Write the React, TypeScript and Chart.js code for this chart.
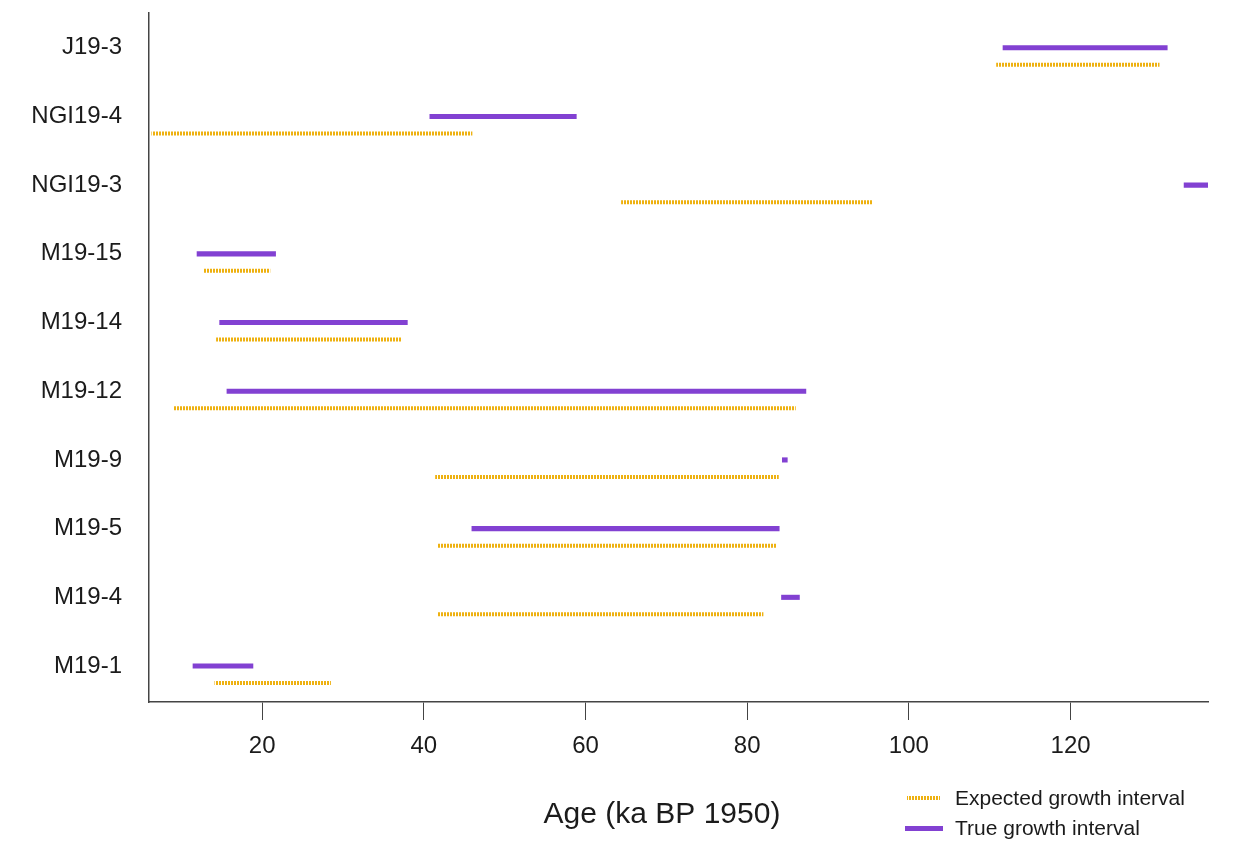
import React, { useEffect, useRef } from "react";
import { Chart, registerables } from "chart.js";

Chart.register(...registerables);

// ---- data ----
const samples = ["J19-3", "NGI19-4", "NGI19-3", "M19-15", "M19-14", "M19-12", "M19-9", "M19-5", "M19-4", "M19-1"];
const trueStart = [111.6, 40.7, 134.0, 11.9, 14.7, 15.6, 84.3, 45.9, 84.2, 11.4];
const trueEnd = [132.0, 58.9, 138.0, 21.7, 38.0, 87.3, 85.0, 84.0, 86.5, 18.9];
const expectedStart = [110.8, 6.3, 64.4, 12.7, 14.3, 9.0, 41.4, 41.7, 41.7, 14.1];
const expectedEnd = [131.0, 46.0, 95.5, 21.0, 37.3, 86.0, 83.9, 83.6, 82.0, 28.5];
const xTickValues = [20, 40, 60, 80, 100, 120];
const xMin = 6;
const xMax = 137;
const axisTitle = "Age (ka BP 1950)";
const seriesLabels = ["True growth interval", "Expected growth interval"];

const PURPLE = "#8241d2";
const YELLOW = "#eeb110";
const TEXT = "#1b1b1b";
const AXIS = "#444444";
const FONT = '"Liberation Sans", Arial, sans-serif';

export default function App() {
  const ref = useRef<HTMLCanvasElement | null>(null);

  useEffect(() => {
    const canvas = ref.current;
    if (!canvas) return;
    const ctx0 = canvas.getContext("2d")!;
    const tile = document.createElement("canvas");
    tile.width = 3;
    tile.height = 8;
    const tg = tile.getContext("2d")!;
    tg.fillStyle = YELLOW;
    tg.fillRect(0, 0, 2, 8);
    const pattern = ctx0.createPattern(tile, "repeat")!;

    const legendPlugin = {
      id: "customLegend",
      afterDraw(chart: any) {
        const c = chart.ctx;
        c.save();
        // axis title
        c.font = `30px ${FONT}`;
        c.fillStyle = TEXT;
        c.textAlign = "center";
        c.textBaseline = "middle";
        c.fillText(axisTitle, 662, 815);
        // legend
        c.fillStyle = pattern;
        c.fillRect(907, 796, 33, 4);
        c.fillStyle = PURPLE;
        c.fillRect(905, 826, 38, 5);
        c.font = `21px ${FONT}`;
        c.fillStyle = TEXT;
        c.textAlign = "left";
        c.fillText(chart.data.datasets[1].label, 955, 799);
        c.fillText(chart.data.datasets[0].label, 955, 829);
        c.restore();
      },
    };

    const chart = new Chart(canvas, {
      type: "bar",
      data: {
        datasets: [
          {
            label: seriesLabels[0],
            data: samples.map((_, i) => ({ y: i, x: [trueStart[i], trueEnd[i]] })) as any,
            backgroundColor: PURPLE,
            borderWidth: 0,
            barPercentage: 0.3,
            categoryPercentage: 0.495,
          },
          {
            label: seriesLabels[1],
            data: samples.map((_, i) => ({ y: i, x: [expectedStart[i], expectedEnd[i]] })) as any,
            backgroundColor: pattern as any,
            borderWidth: 0,
            barPercentage: 0.235,
            categoryPercentage: 0.495,
          },
        ],
      },
      options: {
        indexAxis: "y",
        animation: false,
        responsive: true,
        maintainAspectRatio: false,
        layout: { padding: { top: 13, right: 34, bottom: 0, left: 0 } },
        plugins: {
          legend: { display: false },
          tooltip: { enabled: false },
          title: { display: false },
        },
        scales: {
          x: {
            type: "linear",
            min: xMin,
            max: xMax,
            afterFit: (s: any) => {
              s.height = 141;
              s.paddingLeft = 0;
              s.paddingRight = 0;
            },
            afterBuildTicks: (s: any) => {
              s.ticks = xTickValues.map((v) => ({ value: v }));
            },
            ticks: {
              font: { family: FONT, size: 24 },
              color: TEXT,
              padding: 12,
              maxRotation: 0,
            },
            grid: {
              display: true,
              drawOnChartArea: false,
              drawTicks: true,
              tickLength: 18,
              color: AXIS,
              lineWidth: 1,
            },
            border: { display: true, color: AXIS, width: 1.5 },
          },
          y: {
            type: "linear",
            reverse: true,
            offset: false,
            min: -0.63,
            max: 9.4,
            afterFit: (s: any) => {
              s.width = 149;
              s.paddingTop = 0;
              s.paddingBottom = 0;
            },
            afterBuildTicks: (s: any) => {
              s.ticks = samples.map((_, i) => ({ value: i }));
            },
            ticks: {
              font: { family: FONT, size: 24 },
              color: TEXT,
              padding: 27,
              labelOffset: -8.5,
              callback: (v: any) => samples[v as number] ?? "",
            },
            grid: { display: false, drawTicks: false, offset: false },
            border: { display: true, color: AXIS, width: 1.5 },
          },
        },
      },
      plugins: [legendPlugin],
    });

    return () => chart.destroy();
  }, []);

  return (
    <div style={{ position: "fixed", left: 0, top: 0, width: 1242, height: 843, background: "#fff" }}>
      <canvas ref={ref} />
    </div>
  );
}
